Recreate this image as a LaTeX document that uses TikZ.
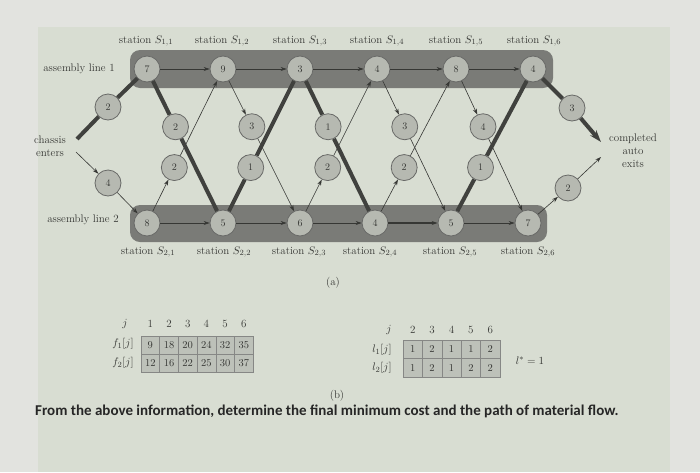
\documentclass[tikz,border=0pt]{standalone}
\usepackage{fontspec}
\newfontfamily\questfont{Carlito}
\usetikzlibrary{positioning,calc,arrows.meta}

\definecolor{paper}{HTML}{D8DDD2}
\definecolor{edgepaper}{HTML}{E2E3DF}
\definecolor{bandgray}{HTML}{7A7B77}
\definecolor{discgray}{HTML}{B6B9B1}
\definecolor{inkgray}{HTML}{363734}
\definecolor{cellgray}{HTML}{BDC1B9}

\begin{document}
\begin{tikzpicture}[x=1pt,y=-1pt,
	station/.style={circle, draw=inkgray!75, fill=discgray, line width=0.8pt, minimum size=26pt, inner sep=0pt, text=inkgray, font=\fontsize{10}{12}\selectfont},
	band/.style={rounded corners=10pt, fill=bandgray},
	flow/.style={-{Stealth[length=6pt,width=4pt]}, draw=inkgray, line width=0.6pt},
	bestpath/.style={draw=inkgray!95, line width=4pt},
	textlab/.style={text=inkgray, inner sep=0pt, font=\fontsize{11}{13}\selectfont},
	cell/.style={rectangle, draw=inkgray!60, fill=cellgray, minimum width=18.7pt, minimum height=18pt, inner sep=0pt, text=inkgray, font=\fontsize{10.5}{12}\selectfont},
	]
	%Background
	\fill[edgepaper] (0,0) rectangle (700,472);
	\fill[paper] (38,27) rectangle (670,472);
	\fill[band] (130,50) rectangle (553,88);
	\fill[band] (130,205) rectangle (547,242);
	%
	%Nodes
	\node[station] (s11) at (147,69) {7};
	\node[station] (s12) at (223,69) {9};
	\node[station] (s13) at (300,69) {3};
	\node[station] (s14) at (377,69) {4};
	\node[station] (s15) at (456,69) {8};
	\node[station] (s16) at (533,69) {4};
	%
	\node[station] (s21) at (147,223) {8};
	\node[station] (s22) at (223,223) {5};
	\node[station] (s23) at (300,223) {6};
	\node[station] (s24) at (375,223) {4};
	\node[station] (s25) at (451,223) {5};
	\node[station] (s26) at (528,223) {7};
	%
	\node[station] (t11) at ($(s11)!0.375!(s22)$) {2};
	\node[station] (t12) at ($(s12)!0.375!(s23)$) {3};
	\node[station] (t13) at ($(s13)!0.375!(s24)$) {1};
	\node[station] (t14) at ($(s14)!0.375!(s25)$) {3};
	\node[station] (t15) at ($(s15)!0.375!(s26)$) {4};
	%
	\node[station] (t21) at ($(s21)!0.36!(s12)$) {2};
	\node[station] (t22) at ($(s22)!0.36!(s13)$) {1};
	\node[station] (t23) at ($(s23)!0.36!(s14)$) {2};
	\node[station] (t24) at ($(s24)!0.36!(s15)$) {2};
	\node[station] (t25) at ($(s25)!0.36!(s16)$) {1};
	%
	\node[station] (e1) at (108,107) {2};
	\node[station] (e2) at (108,183) {4};
	\node[station] (x1) at (572,108) {3};
	\node[station] (x2) at (568,188) {2};
	%
	\coordinate (enter1) at (77,139);
	\coordinate (enter2) at (76,152);
	\coordinate (exit1) at (601,142);
	\coordinate (exit2) at (601,157);
	%
	%Labels
	\node[textlab] (l11) at (146,41) {station $S_{1,1}$};
	\node[textlab] (l12) at (222,41) {station $S_{1,2}$};
	\node[textlab] (l13) at (300,41) {station $S_{1,3}$};
	\node[textlab] (l14) at (377,41) {station $S_{1,4}$};
	\node[textlab] (l15) at (456,41) {station $S_{1,5}$};
	\node[textlab] (l16) at (534,41) {station $S_{1,6}$};
	%
	\node[textlab] (l21) at (148,252) {station $S_{2,1}$};
	\node[textlab] (l22) at (224,252) {station $S_{2,2}$};
	\node[textlab] (l23) at (299,252) {station $S_{2,3}$};
	\node[textlab] (l24) at (370,252) {station $S_{2,4}$};
	\node[textlab] (l25) at (450,252) {station $S_{2,5}$};
	\node[textlab] (l26) at (528,252) {station $S_{2,6}$};
	%
	\node[textlab] (line1) at (79,69) {assembly line 1};
	\node[textlab] (line2) at (83,220) {assembly line 2};
	\node[textlab, align=center] (chassis) at (50,146) {chassis\\enters};
	\node[textlab, align=center] (auto) at (633,151) {completed\\auto\\exits};
	\node[textlab] (parta) at (333,283) {(a)};
	%
	%Lines 1 and 2
	\draw[flow] (s11) -- (s12);
	\draw[flow] (s12) -- (s13);
	\draw[flow] (s13) -- (s14);
	\draw[flow] (s14) -- (s15);
	\draw[flow] (s15) -- (s16);
	\draw[flow] (s21) -- (s22);
	\draw[flow] (s22) -- (s23);
	\draw[flow] (s23) -- (s24);
	\draw[flow, line width=1.8pt] (s24) -- (s25);
	\draw[flow] (s25) -- (s26);
	%
	%Transfers
	\draw[flow] (s12) -- (t12);
	\draw[flow] (t12) -- (s23);
	\draw[flow] (s14) -- (t14);
	\draw[flow] (t14) -- (s25);
	\draw[flow] (s15) -- (t15);
	\draw[flow] (t15) -- (s26);
	\draw[flow] (s21) -- (t21);
	\draw[flow] (t21) -- (s12);
	\draw[flow] (s23) -- (t23);
	\draw[flow] (t23) -- (s14);
	\draw[flow] (s24) -- (t24);
	\draw[flow] (t24) -- (s15);
	%
	%Fastest way
	\draw[bestpath] (enter1) -- (e1) -- (s11) -- (t11) -- (s22) -- (t22) -- (s13) -- (t13) -- (s24);
	\draw[bestpath] (s25) -- (t25) -- (s16) -- (x1);
	\draw[bestpath, -{Stealth[length=12pt,width=8pt]}] (x1) -- (exit1);
	\draw[flow] (enter2) -- (e2);
	\draw[flow] (e2) -- (s21);
	\draw[flow] (s26) -- (x2);
	\draw[flow] (x2) -- (exit2);
	%
	%Table f
	\node[textlab] (fj) at (125,324) {$j$};
	\node[textlab] (f1) at (123,344) {$f_1[j]$};
	\node[textlab] (f2) at (123,363) {$f_2[j]$};
	\node[textlab] (fh1) at (150.3,324) {1};
	\node[textlab] (fh2) at (169,324) {2};
	\node[textlab] (fh3) at (187.7,324) {3};
	\node[textlab] (fh4) at (206.4,324) {4};
	\node[textlab] (fh5) at (225.1,324) {5};
	\node[textlab] (fh6) at (243.8,324) {6};
	\node[cell] (fa1) at (150.3,345) {9};
	\node[cell] (fa2) at (169,345) {18};
	\node[cell] (fa3) at (187.7,345) {20};
	\node[cell] (fa4) at (206.4,345) {24};
	\node[cell] (fa5) at (225.1,345) {32};
	\node[cell] (fa6) at (243.8,345) {35};
	\node[cell] (fb1) at (150.3,363) {12};
	\node[cell] (fb2) at (169,363) {16};
	\node[cell] (fb3) at (187.7,363) {22};
	\node[cell] (fb4) at (206.4,363) {25};
	\node[cell] (fb5) at (225.1,363) {30};
	\node[cell] (fb6) at (243.8,363) {37};
	%
	%Table l
	\node[textlab] (lj) at (389,330) {$j$};
	\node[textlab] (lone) at (382,350) {$l_1[j]$};
	\node[textlab] (ltwo) at (382,368) {$l_2[j]$};
	\node[textlab] (lh2) at (412.7,330) {2};
	\node[textlab] (lh3) at (432.1,330) {3};
	\node[textlab] (lh4) at (451.5,330) {4};
	\node[textlab] (lh5) at (470.9,330) {5};
	\node[textlab] (lh6) at (490.3,330) {6};
	\node[cell, minimum width=19.4pt, minimum height=18.5pt] (la2) at (412.7,349.25) {1};
	\node[cell, minimum width=19.4pt, minimum height=18.5pt] (la3) at (432.1,349.25) {2};
	\node[cell, minimum width=19.4pt, minimum height=18.5pt] (la4) at (451.5,349.25) {1};
	\node[cell, minimum width=19.4pt, minimum height=18.5pt] (la5) at (470.9,349.25) {1};
	\node[cell, minimum width=19.4pt, minimum height=18.5pt] (la6) at (490.3,349.25) {2};
	\node[cell, minimum width=19.4pt, minimum height=18.5pt] (lb2) at (412.7,367.75) {1};
	\node[cell, minimum width=19.4pt, minimum height=18.5pt] (lb3) at (432.1,367.75) {2};
	\node[cell, minimum width=19.4pt, minimum height=18.5pt] (lb4) at (451.5,367.75) {1};
	\node[cell, minimum width=19.4pt, minimum height=18.5pt] (lb5) at (470.9,367.75) {2};
	\node[cell, minimum width=19.4pt, minimum height=18.5pt] (lb6) at (490.3,367.75) {2};
	\node[textlab] (lstar) at (530,361) {$l^* = 1$};
	\node[textlab] (partb) at (337,396) {(b)};
	%
	\node[text=black!85, inner sep=0pt, anchor=west, font=\questfont\bfseries\fontsize{15}{17}\selectfont] (question) at (35,411) {From the above information, determine the final minimum cost and the path of material flow.};
\end{tikzpicture}
\end{document}
